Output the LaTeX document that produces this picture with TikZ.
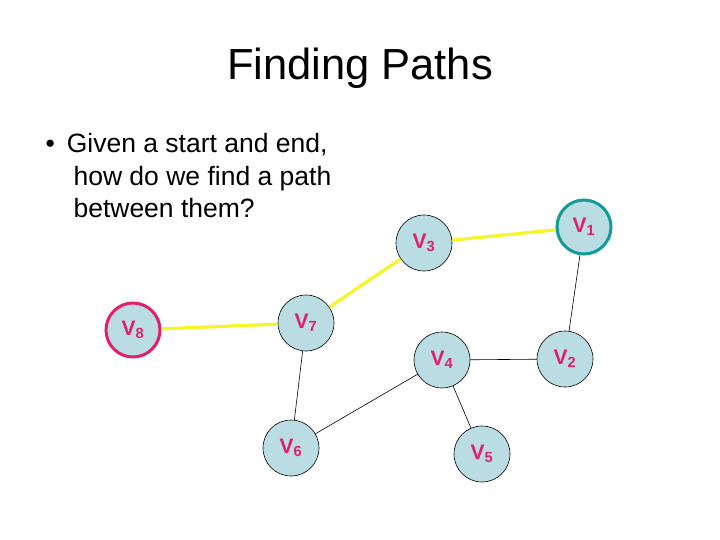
\documentclass[tikz,border=0pt]{standalone}
\usepackage{fontspec}
\setmainfont{Liberation Sans}
\definecolor{nfill}{HTML}{B9DDE2}
\definecolor{vpink}{HTML}{E0206A}
\definecolor{vteal}{HTML}{139A9A}
\definecolor{hyel}{HTML}{F5F52A}
\begin{document}
\begin{tikzpicture}[x=1pt,y=-1pt,
  vert/.style={circle,draw=black,line width=0.6pt,fill=nfill,minimum size=56pt,inner sep=0pt,
    text=vpink,font=\fontsize{21}{22}\selectfont\bfseries},
  path/.style={hyel,line width=3.2pt},
  edge/.style={black,line width=0.6pt}]
\useasboundingbox (0,0) rectangle (720,540);
\node (title) at (360,68) {\fontsize{43.5}{48}\selectfont Finding Paths};
\node[anchor=north west,align=left,font=\fontsize{26.5}{32.5}\selectfont] (txt) at (42,130)
  {•\hspace{12pt}Given a start and end,\\\hspace{28pt}how do we find a path\\\hspace{28pt}between them?};
\node[vert,draw=vteal,line width=3pt,minimum size=54pt] (v1) at (584,227) {V\textsubscript{1}};
\node[vert] (v3) at (424,243) {V\textsubscript{3}};
\node[vert,draw=vpink,line width=3pt,minimum size=54pt] (v8) at (133,330) {V\textsubscript{8}};
\node[vert] (v7) at (306,323) {V\textsubscript{7}};
\node[vert] (v4) at (442,360) {V\textsubscript{4}};
\node[vert] (v2) at (565,359) {V\textsubscript{2}};
\node[vert] (v6) at (291,448) {V\textsubscript{6}};
\node[vert] (v5) at (482,454) {V\textsubscript{5}};
\draw[path] (v3) -- (v1);
\draw[path] (v7) -- (v3);
\draw[path] (v8) -- (v7);
\draw[edge] (v1) -- (v2);
\draw[edge] (v4) -- (v2);
\draw[edge] (v7) -- (v6);
\draw[edge] (v6) -- (v4);
\draw[edge] (v4) -- (v5);
\end{tikzpicture}
\end{document}
